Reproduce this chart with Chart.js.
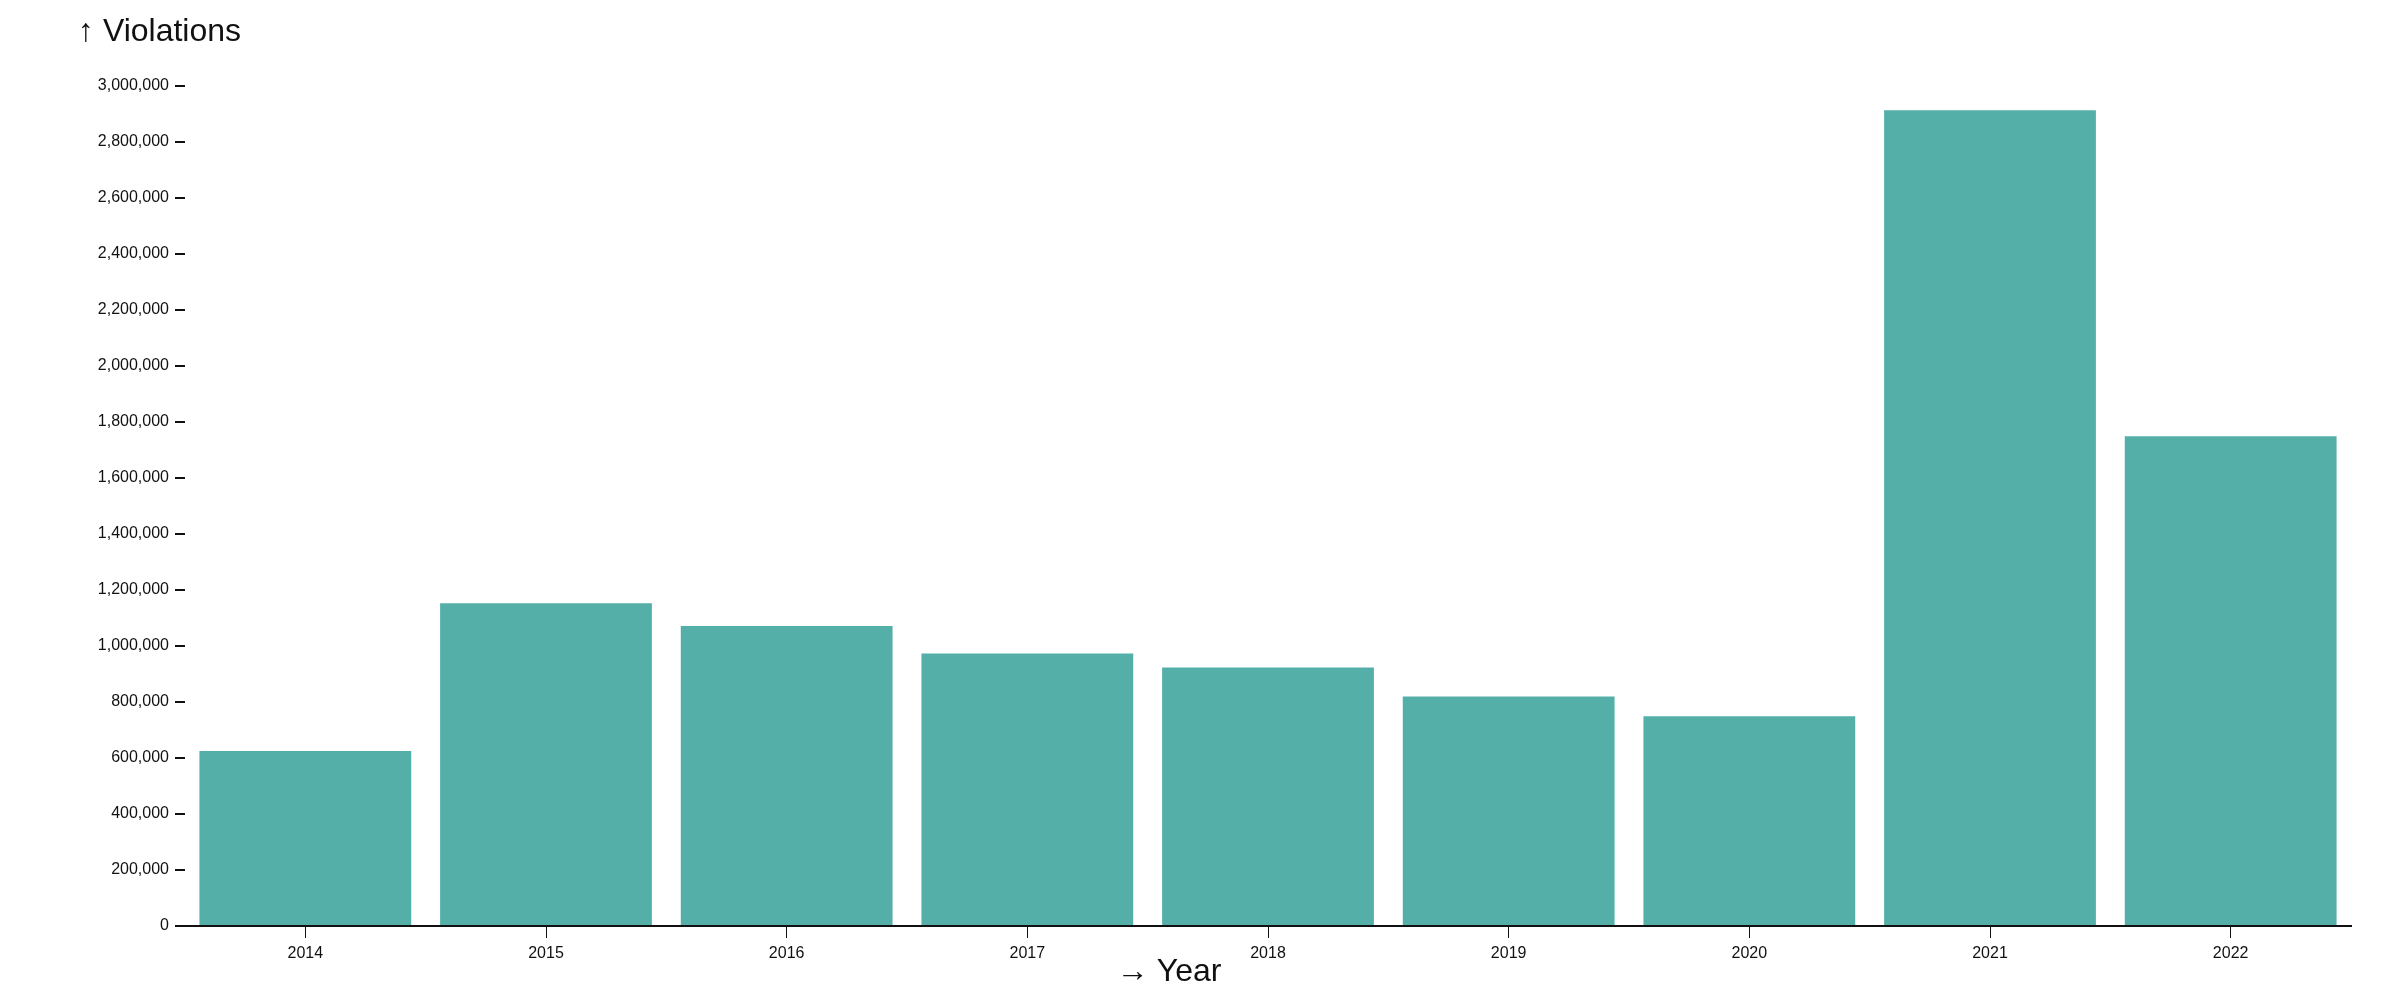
<!DOCTYPE html>
<html><head><meta charset="utf-8">
<script src="https://cdn.jsdelivr.net/npm/chart.js@4"></script>
<style>
body{margin:0;background:#fff;font-family:"Liberation Sans",Arial,sans-serif;}
#wrap{position:relative;width:2402px;height:1000px;}
.t{position:absolute;font-size:32px;color:#111;white-space:nowrap;}
</style></head><body>
<div id="wrap">
<canvas id="c" width="2402" height="1000" style="width:2402px;height:1000px"></canvas>
<div class="t" style="left:78px;top:12px">↑ Violations</div>
<div class="t" style="left:1169px;top:952px;transform:translateX(-50%)">→ Year</div>
</div>
<script>
const years = ["2014","2015","2016","2017","2018","2019","2020","2021","2022"];
const violations = [625000,1153000,1071000,973000,923000,820000,749000,2913000,1749000];
const yTicks = [0,200000,400000,600000,800000,1000000,1200000,1400000,1600000,1800000,2000000,2200000,2400000,2600000,2800000,3000000];
new Chart(document.getElementById('c'),{
 type:'bar',
 data:{labels:years,datasets:[{data:violations,backgroundColor:'#54AFA8',barPercentage:0.88,categoryPercentage:1}]},
 options:{
  responsive:false,devicePixelRatio:1,animation:false,
  layout:{padding:{top:86,right:51,left:0,bottom:0}},
  plugins:{legend:{display:false},tooltip:{enabled:false}},
  scales:{
   x:{grid:{offset:false,drawOnChartArea:false,tickLength:12,color:'#111',lineWidth:1},
      border:{display:true,color:'#111',width:2},
      ticks:{color:'#111',font:{size:16,family:'Liberation Sans'},padding:6,maxRotation:0},
      afterFit:s=>{s.height=74;}},
   y:{min:0,max:3000000,
      afterBuildTicks:s=>{s.ticks=yTicks.map(v=>({value:v}));},
      grid:{drawOnChartArea:false,tickLength:10,color:'#111',lineWidth:2},
      border:{display:false},
      ticks:{color:'#111',font:{size:16,family:'Liberation Sans'},padding:6,callback:v=>v.toLocaleString('en-US')},
      afterFit:s=>{s.width=185;}}
  }
 }
});
</script></body></html>
